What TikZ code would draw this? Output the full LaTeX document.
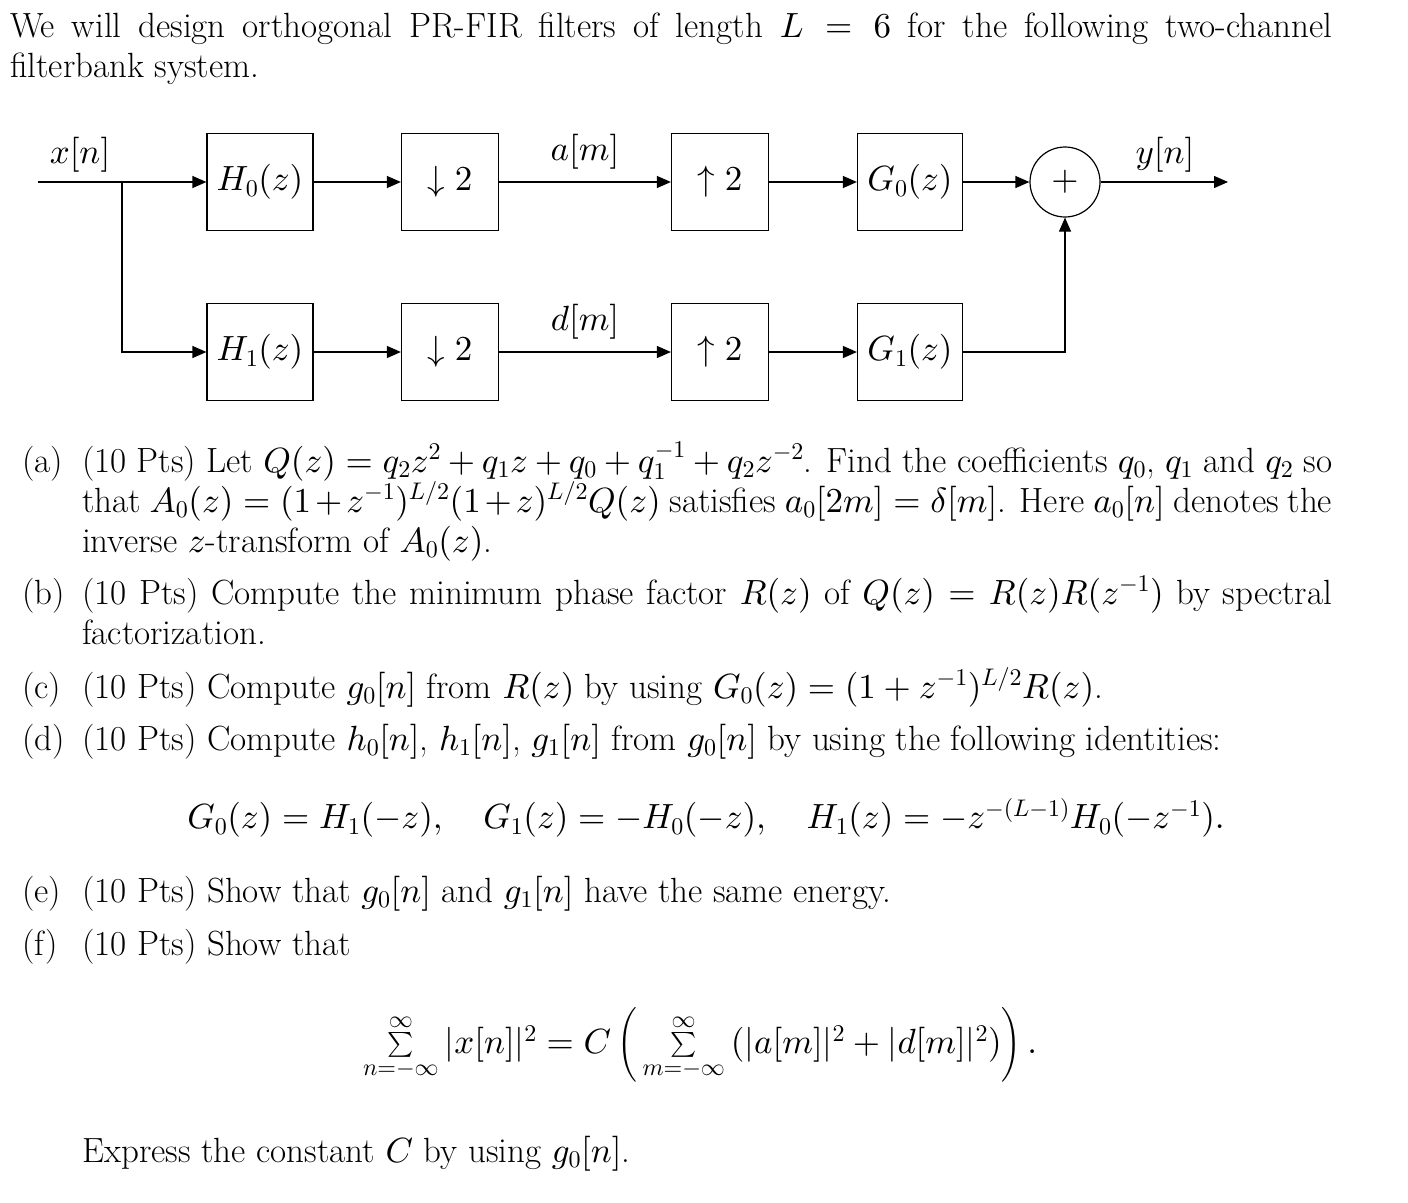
\documentclass[tikz,border=0pt]{standalone}
\DeclareFontShape{OML}{cmm}{m}{it}{<->cmmi10}{}
\DeclareFontShape{OMS}{cmsy}{m}{n}{<->cmsy10}{}
\DeclareFontShape{OMX}{cmex}{m}{n}{<->cmex10}{}
\DeclareFontShape{OT1}{cmr}{m}{n}{<->cmr10}{}
\DeclareMathSizes{35}{35}{24}{18}
\usepackage{amsmath}
\usetikzlibrary{arrows.meta}
\newcommand{\jl}[2]{\makebox[#1][s]{#2}}
\begin{document}
\begin{tikzpicture}[x=1pt,y=-1pt,
  blk/.style={draw,line width=1.2pt,minimum width=106pt,minimum height=97pt,inner sep=0pt},
  wire/.style={line width=1.2pt},
  arr/.style={wire,-{Triangle[length=14pt,width=12pt]}},
  txt/.style={anchor=base west,inner sep=0pt,font=\fontsize{35}{40}\selectfont},
  lab/.style={inner sep=0pt,font=\fontsize{35}{40}\selectfont}]
\useasboundingbox (0,0) rectangle (1408,1202);
% diagram
\node[blk] (h0) at (260,182) {};
\node[lab] at (h0) {$H_0(z)$};
\node[blk] (h1) at (260,352) {};
\node[lab] at (h1) {$H_1(z)$};
\node[blk,minimum width=97pt] (d0) at (450,182) {};
\node[lab] at (d0) {$\downarrow 2$};
\node[blk,minimum width=97pt] (d1) at (450,352) {};
\node[lab] at (d1) {$\downarrow 2$};
\node[blk,minimum width=97pt] (u0) at (720,182) {};
\node[lab] at (u0) {$\uparrow 2$};
\node[blk,minimum width=97pt] (u1) at (720,352) {};
\node[lab] at (u1) {$\uparrow 2$};
\node[blk,minimum width=105pt] (g0) at (910,182) {};
\node[lab] at (g0) {$G_0(z)$};
\node[blk,minimum width=105pt] (g1) at (910,352) {};
\node[lab] at (g1) {$G_1(z)$};
\node[draw,circle,line width=1.2pt,minimum size=70pt,inner sep=0pt] (s) at (1065,182) {};
\node[lab] at (s) {$+$};
\coordinate (in) at (38,182);
\coordinate (br) at (122,182);
\coordinate (out) at (1228,182);
\coordinate (c1) at (1065,352);
\node[lab] at (80,155) {$x[n]$};
\node[lab] at (585,152) {$a[m]$};
\node[lab] at (585,322) {$d[m]$};
\node[lab] at (1165,155) {$y[n]$};
\draw[arr] (in) -- (h0);
\draw[arr] (br) |- (h1);
\draw[arr] (h0) -- (d0);
\draw[arr] (h1) -- (d1);
\draw[arr] (d0) -- (u0);
\draw[arr] (d1) -- (u1);
\draw[arr] (u0) -- (g0);
\draw[arr] (u1) -- (g1);
\draw[arr] (g0) -- (s);
\draw[arr] (g1) -- (c1) -- (s);
\draw[arr] (s) -- (out);
% text
\node[txt] (t1) at (10,37) {\jl{1322pt}{We will design orthogonal PR-FIR filters of length $L=6$ for the following two-channel}};
\node[txt] (t2) at (10,77) {filterbank system.};
\node[txt] (la) at (22,472) {(a)};
\node[txt] (a1) at (82,472) {\jl{1250pt}{(10 Pts) Let $Q(z)=q_2z^2+q_1z+q_0+q_1^{-1}+q_2z^{-2}$. Find the coefficients $q_0$, $q_1$ and $q_2$ so}};
\node[txt] (a2) at (82,512) {\jl{1250pt}{that $A_0(z)=(1+z^{-1})^{L/2}(1+z)^{L/2}Q(z)$ satisfies $a_0[2m]=\delta[m]$. Here $a_0[n]$ denotes the}};
\node[txt] (a3) at (82,552) {inverse $z$-transform of $A_0(z)$.};
\node[txt] (lb) at (22,604) {(b)};
\node[txt] (b1) at (82,604) {\jl{1250pt}{(10 Pts) Compute the minimum phase factor $R(z)$ of $Q(z)=R(z)R(z^{-1})$ by spectral}};
\node[txt] (b2) at (82,644) {factorization.};
\node[txt] (lc) at (22,698) {(c)};
\node[txt] (c1t) at (82,698) {(10 Pts) Compute $g_0[n]$ from $R(z)$ by using $G_0(z)=(1+z^{-1})^{L/2}R(z)$.};
\node[txt] (ld) at (22,750) {(d)};
\node[txt] (d1t) at (82,750) {(10 Pts) Compute $h_0[n]$, $h_1[n]$, $g_1[n]$ from $g_0[n]$ by using the following identities:};
\node[lab] (eq1) at (706,818) {$G_0(z)=H_1(-z),\quad G_1(z)=-H_0(-z),\quad H_1(z)=-z^{-(L-1)}H_0(-z^{-1}).$};
\node[txt] (le) at (22,902) {(e)};
\node[txt] (e1) at (82,902) {(10 Pts) Show that $g_0[n]$ and $g_1[n]$ have the same energy.};
\node[txt] (lf) at (22,955) {(f)};
\node[txt] (f1) at (82,955) {(10 Pts) Show that};
\node[lab] (eq2) at (700,1045) {$\sum\limits_{n=-\infty}^{\infty}|x[n]|^2 = C\left(\,\sum\limits_{m=-\infty}^{\infty}\left(|a[m]|^2+|d[m]|^2\right)\right).$};
\node[txt] (ex) at (82,1162) {Express the constant $C$ by using $g_0[n]$.};
\end{tikzpicture}
\end{document}
